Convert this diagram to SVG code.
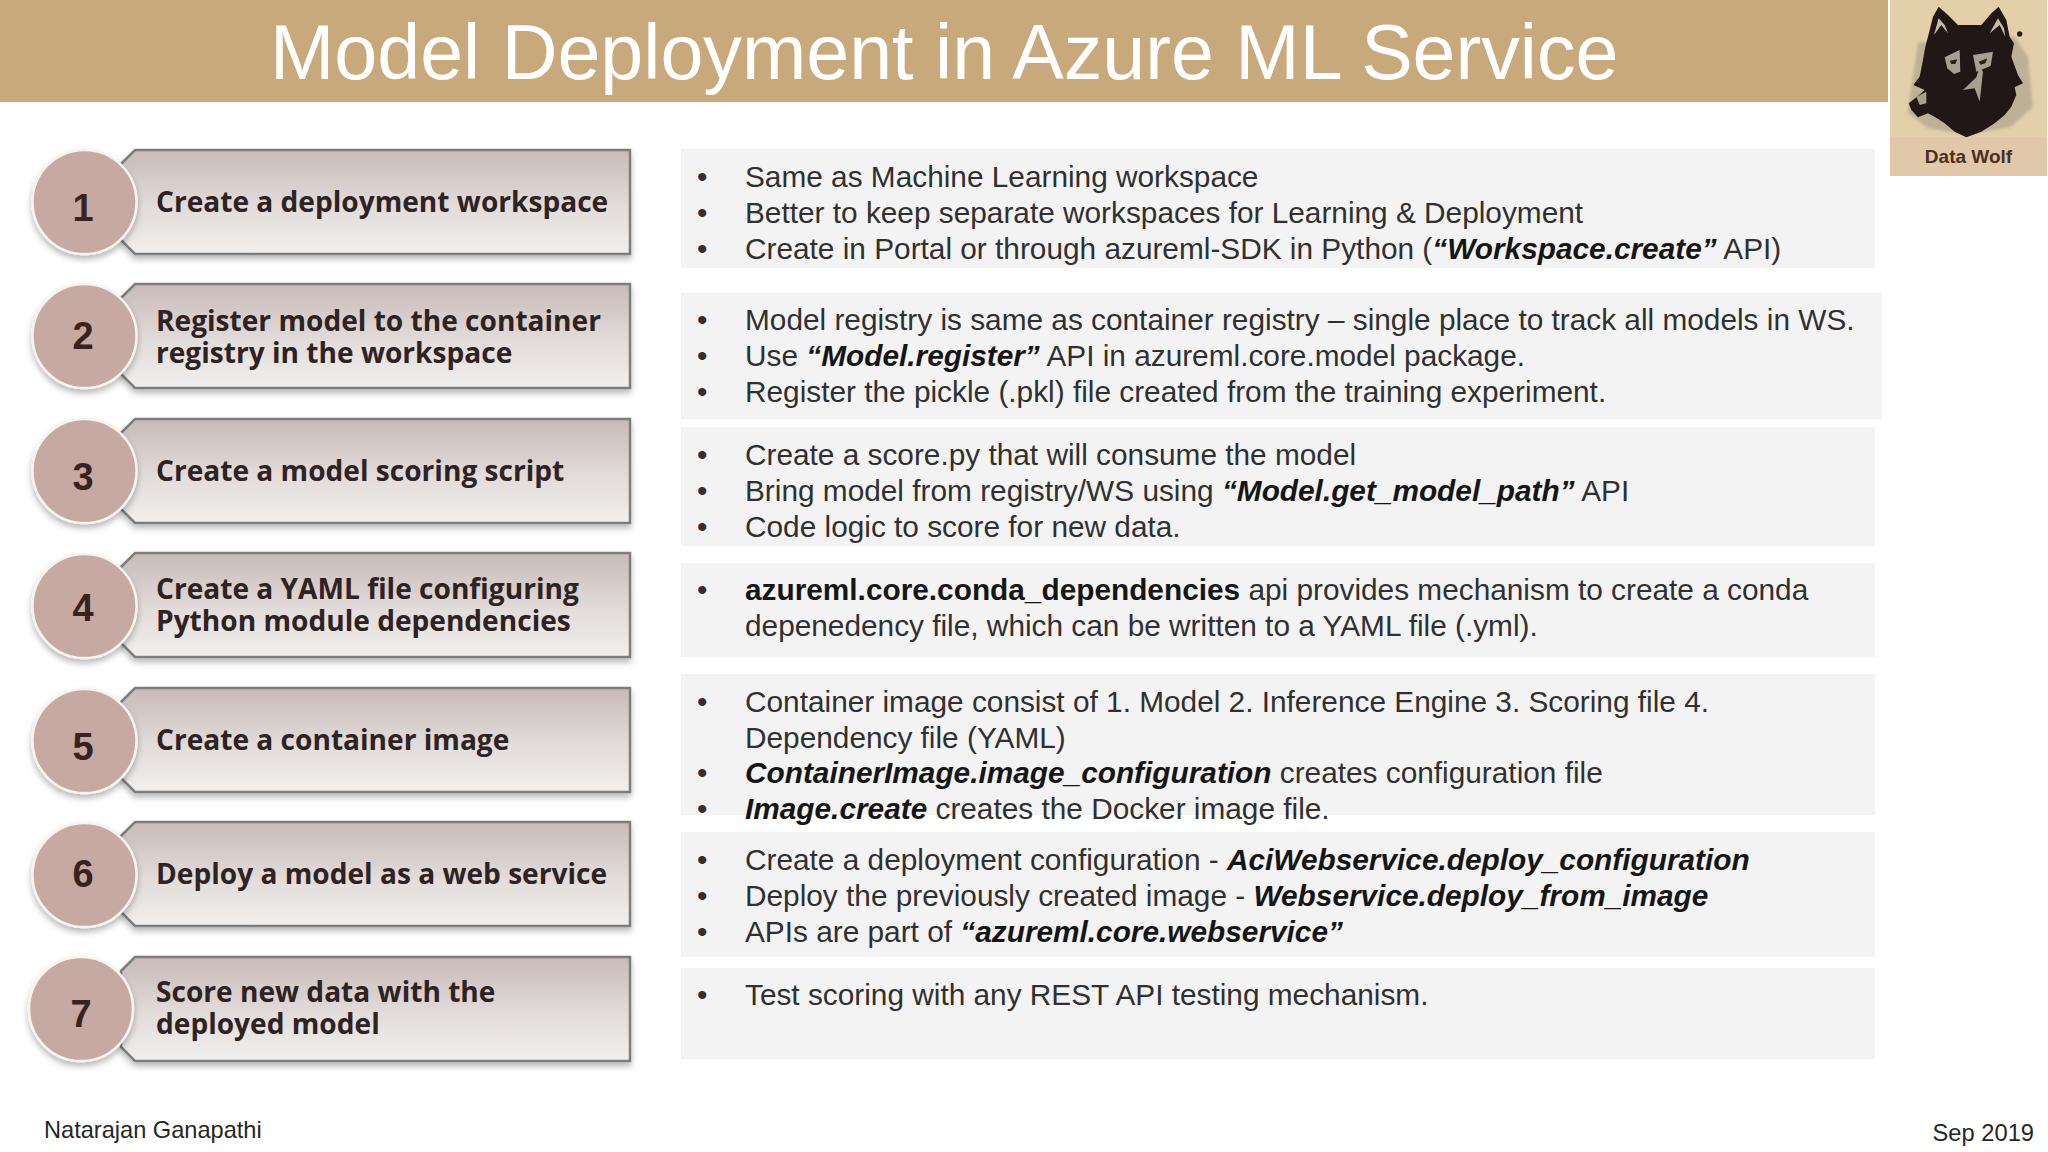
<svg xmlns="http://www.w3.org/2000/svg" width="2048" height="1152" viewBox="0 0 2048 1152">
<style>
.t{font-family:"Liberation Sans",Arial,sans-serif;font-size:29.8px;fill:#303030}
.b{font-weight:700;font-style:italic;fill:#161616}
.bb{font-weight:700;fill:#161616}
.lab{font-family:"Open Sans","Noto Sans",sans-serif;font-weight:700;font-size:28.1px;fill:#2e2222}
.num{font-family:"Liberation Sans",Arial,sans-serif;font-weight:700;font-size:38px;fill:#3a2220;text-anchor:middle}
.panel{fill:#f3f3f3}
.arrow{fill:url(#boxg);stroke:#7d7d7d;stroke-width:2.500;filter:url(#sh)}
.circ{fill:#c5a9a2;stroke:#f8f3ef;stroke-width:2.500;filter:url(#sh)}
</style>
<defs>
<linearGradient id="boxg" x1="0" y1="0" x2="0" y2="1"><stop offset="0" stop-color="#c8bab8"/><stop offset=".55" stop-color="#e2dcda"/><stop offset="1" stop-color="#f1efed"/></linearGradient>
<filter id="sh" x="-10%" y="-10%" width="120%" height="125%"><feDropShadow dx="0" dy="4" stdDeviation="3" flood-color="#000" flood-opacity=".28"/></filter>
<filter id="soft" x="-10%" y="-10%" width="120%" height="120%"><feGaussianBlur stdDeviation="1"/></filter>
<filter id="soft2" x="-20%" y="-20%" width="140%" height="140%"><feGaussianBlur stdDeviation="5"/></filter>
<path id="arr" d="M121 164L135 150H630V254H135L121 240Z"/>
</defs>
<rect width="2048" height="1152" fill="#fff"/>
<g id="header">
<rect x="0" y="0" width="1888" height="102" fill="#c8a97b"/>
<text x="270" y="79" font-family="Liberation Sans,Arial,sans-serif" font-size="77.2" fill="#fff">Model Deployment in Azure ML Service</text>
</g>
<g id="logo">
<rect x="1890" y="0" width="157" height="137" fill="#e3d0aa"/>
<rect x="1890" y="137" width="157" height="39" fill="#e1c8a8"/>
<g transform="translate(1848 0) scale(.3333)">
<g filter="url(#soft2)" opacity=".6"><path fill="#a79c88" d="M190 260L210 130L300 110L500 110L540 170L555 320L490 380L360 405L240 385L180 340Z"/></g>
<g filter="url(#soft)">
<path fill="#211816" d="M240 110L255 50L272 20L300 45L330 75L400 75L430 40L452 20L475 60L485 110L498 130L490 170L510 225L525 250L500 262L505 285L490 320L470 345L440 370L400 395L355 412L320 395L290 370L262 352L240 340L210 352L190 330L182 310L205 292L230 270L196 255L215 230L225 180L232 140Z"/>
<path fill="#c9bda8" d="M258 105L272 55L290 75L300 100L280 75ZM425 100L450 55L468 85L472 110L455 75Z"/>
<path fill="#a89f90" d="M290 172L335 150L337 215L318 222L298 205Z"/>
<path fill="#a89f90" d="M375 165L435 155L428 198L385 215Z"/>
<path fill="#2a2018" d="M305 182L328 178L322 192L310 192ZM392 185L418 175L412 190L398 194Z"/>
<path fill="#a89f90" d="M345 270L385 232L395 200L405 215L395 305L380 265Z"/>
<path fill="#a89f90" d="M205 290L235 275L235 310L215 315Z"/>
<circle cx="515" cy="102" r="8" fill="#231a18"/>
</g></g>
<text x="1968.500" y="163" text-anchor="middle" font-family="Liberation Sans,Arial,sans-serif" font-weight="700" font-size="19" fill="#4a2f22">Data Wolf</text>
</g>
<g id="step1"><use href="#arr" class="arrow"/><circle class="circ" cx="84.500" cy="202" r="52"/><text class="num" x="83" y="221">1</text><text class="lab" x="156" y="212">Create a deployment workspace</text></g>
<g id="step2"><use href="#arr" class="arrow" y="134"/><circle class="circ" cx="84.500" cy="336" r="52"/><text class="num" x="83" y="349">2</text><text class="lab" x="156" y="331">Register model to the container</text><text class="lab" x="156" y="363">registry in the workspace</text></g>
<g id="step3"><use href="#arr" class="arrow" y="269"/><circle class="circ" cx="84.500" cy="471" r="52"/><text class="num" x="83" y="490">3</text><text class="lab" x="156" y="481">Create a model scoring script</text></g>
<g id="step4"><use href="#arr" class="arrow" y="403"/><circle class="circ" cx="84.500" cy="606" r="52"/><text class="num" x="83" y="621">4</text><text class="lab" x="156" y="599">Create a YAML file configuring</text><text class="lab" x="156" y="631">Python module dependencies</text></g>
<g id="step5"><use href="#arr" class="arrow" y="538"/><circle class="circ" cx="84.500" cy="741" r="52"/><text class="num" x="83" y="760">5</text><text class="lab" x="156" y="750">Create a container image</text></g>
<g id="step6"><use href="#arr" class="arrow" y="672"/><circle class="circ" cx="84.500" cy="875" r="52"/><text class="num" x="83" y="887">6</text><text class="lab" x="156" y="884">Deploy a model as a web service</text></g>
<g id="step7"><use href="#arr" class="arrow" y="807"/><circle class="circ" cx="81" cy="1009" r="52"/><text class="num" x="81" y="1027">7</text><text class="lab" x="156" y="1002">Score new data with the</text><text class="lab" x="156" y="1034">deployed model</text></g>
<g id="detail1"><rect class="panel" x="681" y="149" width="1194" height="119"/>
<text class="t" x="697" y="187">•</text><text class="t" x="745" y="187">Same as Machine Learning workspace</text>
<text class="t" x="697" y="223">•</text><text class="t" x="745" y="223">Better to keep separate workspaces for Learning &amp; Deployment</text>
<text class="t" x="697" y="259">•</text><text class="t" x="745" y="259">Create in Portal or through azureml-SDK in Python (<tspan class="b">“Workspace.create”</tspan> API)</text></g>
<g id="detail2"><rect class="panel" x="681" y="293" width="1201" height="126"/>
<text class="t" x="697" y="330">•</text><text class="t" x="745" y="330">Model registry is same as container registry – single place to track all models in WS.</text>
<text class="t" x="697" y="366">•</text><text class="t" x="745" y="366">Use <tspan class="b">“Model.register”</tspan> API in azureml.core.model package.</text>
<text class="t" x="697" y="402">•</text><text class="t" x="745" y="402">Register the pickle (.pkl) file created from the training experiment.</text></g>
<g id="detail3"><rect class="panel" x="681" y="427" width="1194" height="119"/>
<text class="t" x="697" y="465">•</text><text class="t" x="745" y="465">Create a score.py that will consume the model</text>
<text class="t" x="697" y="501">•</text><text class="t" x="745" y="501">Bring model from registry/WS using <tspan class="b">“Model.get_model_path”</tspan> API</text>
<text class="t" x="697" y="537">•</text><text class="t" x="745" y="537">Code logic to score for new data.</text></g>
<g id="detail4"><rect class="panel" x="681" y="563" width="1194" height="94"/>
<text class="t" x="697" y="600">•</text><text class="t" x="745" y="600"><tspan class="bb">azureml.core.conda_dependencies</tspan> api provides mechanism to create a conda</text>
<text class="t" x="745" y="636">depenedency file, which can be written to a YAML file (.yml).</text></g>
<g id="detail5"><rect class="panel" x="681" y="674" width="1194" height="141"/>
<text class="t" x="697" y="712">•</text><text class="t" x="745" y="712">Container image consist of 1. Model 2. Inference Engine 3. Scoring file 4.</text>
<text class="t" x="745" y="748">Dependency file (YAML)</text>
<text class="t" x="697" y="783">•</text><text class="t" x="745" y="783"><tspan class="b">ContainerImage.image_configuration</tspan> creates configuration file</text>
<text class="t" x="697" y="819">•</text><text class="t" x="745" y="819"><tspan class="b">Image.create</tspan> creates the Docker image file.</text></g>
<g id="detail6"><rect class="panel" x="681" y="832" width="1194" height="125"/>
<text class="t" x="697" y="870">•</text><text class="t" x="745" y="870">Create a deployment configuration - <tspan class="b">AciWebservice.deploy_configuration</tspan></text>
<text class="t" x="697" y="906">•</text><text class="t" x="745" y="906">Deploy the previously created image - <tspan class="b">Webservice.deploy_from_image</tspan></text>
<text class="t" x="697" y="942">•</text><text class="t" x="745" y="942">APIs are part of <tspan class="b">“azureml.core.webservice”</tspan></text></g>
<g id="detail7"><rect class="panel" x="681" y="968" width="1194" height="91"/>
<text class="t" x="697" y="1005">•</text><text class="t" x="745" y="1005">Test scoring with any REST API testing mechanism.</text></g>
<g id="footer">
<text x="44" y="1138" font-family="Liberation Sans,Arial,sans-serif" font-size="23.600" fill="#262626">Natarajan Ganapathi</text>
<text x="2034" y="1141" text-anchor="end" font-family="Liberation Sans,Arial,sans-serif" font-size="23.700" fill="#262626">Sep 2019</text>
</g>
</svg>
